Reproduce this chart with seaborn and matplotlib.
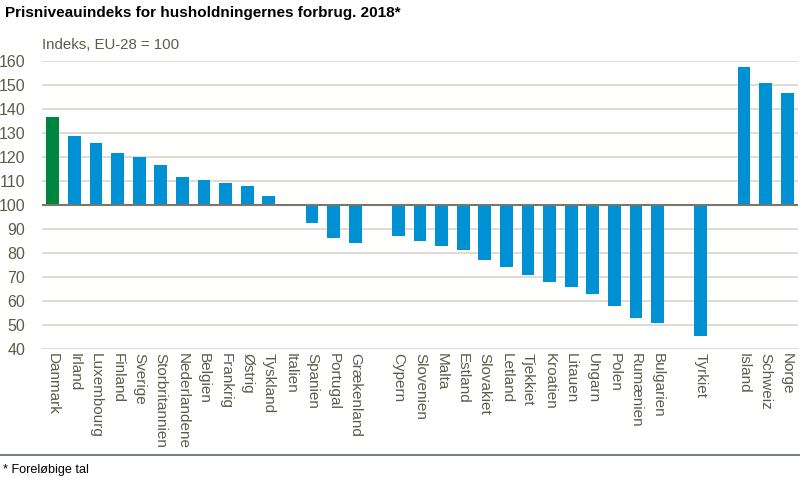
import numpy as np
import pandas as pd
import matplotlib
matplotlib.use("Agg")
import matplotlib.pyplot as plt
import seaborn as sns

# =========================================
# Data
# =========================================
countries = ["Danmark", "Irland", "Luxembourg", "Finland", "Sverige", "Storbritannien",
             "Nederlandene", "Belgien", "Frankrig", "Østrig", "Tyskland", "Italien",
             "Spanien", "Portugal", "Grækenland",
             "Cypern", "Slovenien", "Malta", "Estland", "Slovakiet", "Letland",
             "Tjekkiet", "Kroatien", "Litauen", "Ungarn", "Polen", "Rumænien", "Bulgarien",
             "Tyrkiet",
             "Island", "Schweiz", "Norge"]
index_values = [136.8, 128.7, 125.7, 121.7, 119.9, 116.8,
                111.8, 110.6, 109.3, 108.1, 103.6, 100.3,
                92.6, 86.1, 84.2,
                87.1, 85.1, 83.0, 81.1, 77.1, 74.0,
                71.0, 68.0, 66.0, 62.9, 57.9, 53.0, 51.0,
                45.3,
                157.7, 150.8, 146.8]

# slot order with empty gaps between the groups
slot_order = (countries[:15] + [" "] + countries[15:28] + ["  "] +
              ["Tyrkiet"] + ["   "] + countries[29:])

y_ticks = [40, 50, 60, 70, 80, 90, 100, 110, 120, 130, 140, 150, 160]
base = 100

df = pd.DataFrame({"land": countries, "indeks": index_values})
df["afvigelse"] = df["indeks"] - base

green = "#00853f"
blue = "#0091d5"
palette = {c: (green if c == "Danmark" else blue) for c in countries}

text_col = "#5b5b4c"

# =========================================
# Plot
# =========================================
sns.set_style("white")
plt.rcParams["font.family"] = ["Liberation Sans", "DejaVu Sans"]

fig = plt.figure(figsize=(8, 4.78), dpi=100)
ax = fig.add_axes([0.0525, 0.2699, 0.945, 0.6025])

for t in y_ticks:
    if t != base:
        ax.axhline(t, color="#dedcd4", lw=1.4, zorder=0)

sns.barplot(data=df, x="land", y="afvigelse", hue="land", order=slot_order,
            palette=palette, saturation=1, legend=False, width=0.6, bottom=base,
            linewidth=0, ax=ax, zorder=2)

ax.axhline(base, color="#77776b", lw=1.5, zorder=3)

ax.set_ylim(40, 160)
ax.set_xlim(-0.5, len(slot_order) - 0.5)
ax.set_yticks(y_ticks)
ax.set_yticklabels([str(t) for t in y_ticks], fontsize=11.5, color=text_col)
ax.set_xticks(range(len(slot_order)))
ax.set_xticklabels(slot_order, rotation=-90, fontsize=11,
                   color=text_col, va="top", ha="center")
ax.tick_params(axis="both", length=0)
ax.tick_params(axis="y", pad=12)
ax.tick_params(axis="x", pad=3)
ax.set_xlabel("")
ax.set_ylabel("")
for s in ax.spines.values():
    s.set_visible(False)

fig.text(0.006, 0.972, "Prisniveauindeks for husholdningernes forbrug. 2018*",
         fontsize=11, fontweight="bold", color="black", va="center", ha="left")
fig.text(0.0525, 0.905, "Indeks, EU-28 = 100", fontsize=10.8,
         color=text_col, va="center", ha="left")

fig.add_artist(plt.Line2D([0, 1], [1 - 455 / 478, 1 - 455 / 478],
                          color="#5e6670", lw=1.2, transform=fig.transFigure))
fig.text(0.004, 1 - 470 / 478, "* Foreløbige tal", fontsize=9.1,
         color="black", va="center", ha="left")

fig.savefig("out.png", dpi=100)
